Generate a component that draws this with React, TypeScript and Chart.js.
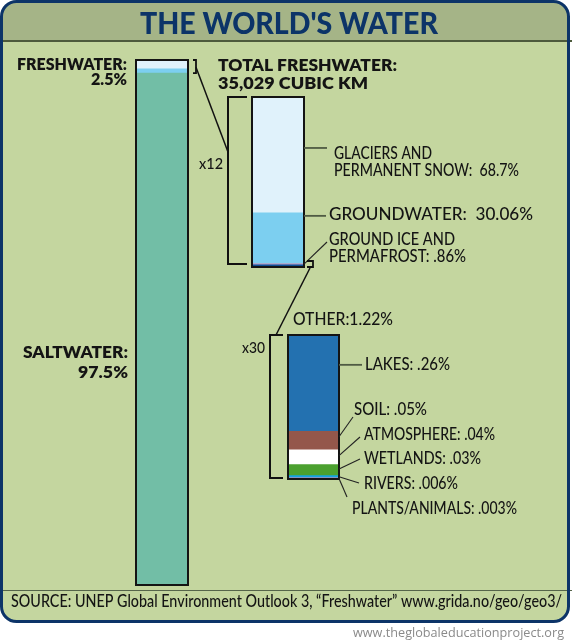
import { useEffect, useRef } from "react";
import { Chart, registerables } from "chart.js";
Chart.register(...registerables);

const W = 572;
const H = 642;

// ---------- data ----------
const WORLD_CATEGORIES = ["SALTWATER", "FRESHWATER"];
const WORLD_VALUES = [97.5, 2.5];
const FRESH_CATEGORIES = ["GLACIERS AND|PERMANENT SNOW", "GROUNDWATER", "GROUND ICE AND|PERMAFROST", "OTHER"];
const FRESH_VALUES = [68.7, 30.06, 0.86, 1.22];
const OTHER_CATEGORIES = ["LAKES", "SOIL", "ATMOSPHERE", "WETLANDS", "RIVERS", "PLANTS/ANIMALS"];
const OTHER_VALUES = [0.26, 0.05, 0.04, 0.03, 0.006, 0.003];
const MAGNIFICATIONS = [12, 30];
const TOTAL_FRESHWATER_KM3 = "35,029";
const TITLE = "THE WORLD'S WATER";
const SOURCE = "SOURCE: UNEP Global Environment Outlook 3, \u201cFreshwater\u201d www.grida.no/geo/geo3/";
const CREDIT = "www.theglobaleducationproject.org";

// ---------- styles ----------
const FONT = "Lato, 'Open Sans', 'DejaVu Sans', sans-serif";
const SALT_COLOR = "#72bea6";
const FRESH_COLORS = ["#e0f2fb", "#7ccff0", "#b49ec8", "#0f4f96"];
const OTHER_COLORS = ["#2371b0", "#94574b", "#ffffff", "#4ba02f", "#15a3e2", "#f08aa2"];
const BG = "#c4d69f";
const HEADER_BG = "#a5b487";
const NAVY = "#0c3468";
const INK = "#141414";
const REG = "500";
const HEAVY = "800";

const sum = (a: number[]) => a.reduce((s, v) => s + v, 0);
const fmt = (v: number) => (v < 1 ? String(v).replace(/^0/, "") : String(v)) + "%";

function txt(
  ctx: CanvasRenderingContext2D,
  s: string,
  x: number,
  cy: number,
  size: number,
  weight: string,
  align: CanvasTextAlign,
  color: string,
  width?: number,
  family: string = FONT
) {
  ctx.save();
  ctx.font = `${weight} ${size}px ${family}`;
  ctx.fillStyle = color;
  ctx.textAlign = align;
  ctx.textBaseline = "alphabetic";
  ctx.translate(x, cy + size * 0.36);
  if (width) {
    const m = ctx.measureText(s).width;
    if (m > 0) ctx.scale(width / m, 1);
  }
  ctx.fillText(s, 0, 0);
  ctx.restore();
}

function line(ctx: CanvasRenderingContext2D, pts: number[][], color: string, lw: number) {
  ctx.save();
  ctx.strokeStyle = color;
  ctx.lineWidth = lw;
  ctx.lineJoin = "miter";
  ctx.beginPath();
  pts.forEach((p, i) => (i ? ctx.lineTo(p[0], p[1]) : ctx.moveTo(p[0], p[1])));
  ctx.stroke();
  ctx.restore();
}

function seg(chart: any, dsIndex: number) {
  const el: any = chart.getDatasetMeta(dsIndex).data[0];
  return { top: Math.min(el.y, el.base), bottom: Math.max(el.y, el.base) };
}

function barOptions(max: number, padding: any, plugins: any[] = []) {
  return {
    type: "bar" as const,
    plugins,
    options: {
      responsive: false,
      animation: false as const,
      events: [] as any[],
      layout: { padding },
      plugins: { legend: { display: false }, title: { display: false }, tooltip: { enabled: false } },
      scales: {
        x: { display: false, stacked: true },
        y: { display: false, stacked: true, min: 0, max },
      },
      datasets: { bar: { barPercentage: 1, categoryPercentage: 1, borderWidth: 0 } },
    },
  };
}

const outline = {
  id: "outline",
  afterDatasetsDraw(chart: any) {
    const { ctx, chartArea: a } = chart;
    ctx.save();
    ctx.strokeStyle = INK;
    ctx.lineWidth = 2;
    ctx.strokeRect(a.left, a.top, a.right - a.left, a.bottom - a.top);
    ctx.restore();
  },
};

const frame = {
  id: "frame",
  beforeDraw(chart: any) {
    const ctx: CanvasRenderingContext2D = chart.ctx;
    const x0 = 1.5, y0 = 1.5, x1 = 568.5, y1 = 621.5, r = 15;
    ctx.save();
    ctx.beginPath();
    ctx.roundRect(x0, y0, x1 - x0, y1 - y0, r);
    ctx.fillStyle = BG;
    ctx.fill();
    ctx.save();
    ctx.clip();
    ctx.fillStyle = HEADER_BG;
    ctx.fillRect(0, 0, W, 41);
    ctx.restore();
    line(ctx, [[0, 41], [W, 41]], "#4d5a3c", 2);
    line(ctx, [[0, 590.5], [W, 590.5]], "#55644a", 1);
    ctx.beginPath();
    ctx.roundRect(x0, y0, x1 - x0, y1 - y0, r);
    ctx.strokeStyle = NAVY;
    ctx.lineWidth = 3;
    ctx.stroke();
    ctx.restore();
    txt(ctx, TITLE, 289, 23, 31, "900", "center", NAVY, 298);
    txt(ctx, SOURCE, 11, 601, 16.5, REG, "left", INK, 551);
    txt(ctx, CREDIT, 564, 632.5, 12.5, "normal", "right", "#8a8a8a", 211, "'Open Sans', 'DejaVu Sans', sans-serif");
  },
  afterDraw(chart: any) {
    const ctx = chart.ctx;
    txt(ctx, WORLD_CATEGORIES[1] + ":", 127, 64, 17, HEAVY, "right", INK, 110);
    txt(ctx, fmt(WORLD_VALUES[1]), 127, 79, 17, HEAVY, "right", INK, 36);
    txt(ctx, WORLD_CATEGORIES[0] + ":", 128, 352, 17.5, HEAVY, "right", INK, 105);
    txt(ctx, fmt(WORLD_VALUES[0]), 128, 372, 17.5, HEAVY, "right", INK, 50);
  },
};

const FRESH_LAYOUT = [
  { t: 0.44, end: [327, NaN], x: 334, ys: [153, 170], sep: ":  ", widths: [98, 185] },
  { t: 0.06, end: [326, NaN], x: 329, ys: [214], sep: ":  ", widths: [204] },
  { t: 0.5, end: [327, 242], x: 329, ys: [239, 256], sep: ": ", widths: [126, 137] },
];
const OTHER_LAYOUT = [
  { t: 0.31, end: [362, NaN], x: 365, y: 364, w: 85 },
  { t: 0.3, end: [353, 417], x: 354, y: 409, w: 73 },
  { t: 0.4, end: [360, 437], x: 364, y: 434, w: 131 },
  { t: 0.4, end: [360, 459], x: 364, y: 458, w: 117 },
  { t: 0.5, end: [359, 483], x: 364, y: 483, w: 94 },
  { t: 0.5, end: [347, 497], x: 352, y: 508, w: 165 },
];

export default function App() {
  const r1 = useRef<HTMLCanvasElement>(null);
  const r2 = useRef<HTMLCanvasElement>(null);
  const r3 = useRef<HTMLCanvasElement>(null);

  useEffect(() => {
    const iceShare = FRESH_VALUES[0] / sum(FRESH_VALUES);
    const fresh = WORLD_VALUES[1];

    const c1 = new Chart(r1.current!, {
      ...barOptions(sum(WORLD_VALUES), { left: 136, right: W - 188, top: 60, bottom: H - 585 }, [frame, outline]),
      data: {
        labels: ["WORLD"],
        datasets: [
          { label: WORLD_CATEGORIES[0], data: [WORLD_VALUES[0]], backgroundColor: SALT_COLOR },
          { label: WORLD_CATEGORIES[1] + " (liquid)", data: [fresh * (1 - iceShare)], backgroundColor: FRESH_COLORS[1] },
          { label: WORLD_CATEGORIES[1] + " (ice)", data: [fresh * iceShare], backgroundColor: FRESH_COLORS[0] },
        ],
      },
    } as any);

    const nF = FRESH_VALUES.length;
    const c2 = new Chart(r2.current!, {
      ...barOptions(sum(FRESH_VALUES), { left: 252, right: W - 304, top: 97, bottom: H - 267 }, [outline]),
      data: {
        labels: ["FRESHWATER"],
        datasets: FRESH_VALUES.map((_, k) => ({
          label: FRESH_CATEGORIES[nF - 1 - k],
          data: [FRESH_VALUES[nF - 1 - k]],
          backgroundColor: FRESH_COLORS[nF - 1 - k],
        })),
      },
    } as any);

    const nO = OTHER_VALUES.length;
    const annotations = {
      id: "annotations",
      afterDraw(chart: any) {
        const ctx: CanvasRenderingContext2D = chart.ctx;
        const a1 = c1.chartArea, a2 = c2.chartArea, a3 = chart.chartArea;
        const blk = "#111";

        txt(ctx, "TOTAL " + WORLD_CATEGORIES[1] + ":", 218, 65, 17.5, HEAVY, "left", INK, 179);
        txt(ctx, TOTAL_FRESHWATER_KM3 + " CUBIC KM", 218, 83, 17.5, HEAVY, "left", INK, 150);

        const fA = { top: seg(c1, 2).top, bottom: seg(c1, 1).bottom };
        const xA = a1.right + 8;
        line(ctx, [[xA - 3, fA.top], [xA, fA.top], [xA, fA.bottom], [xA - 3, fA.bottom]], blk, 1.8);

        const xB = a2.left - 24;
        const bBot = a2.bottom - 3;
        line(ctx, [[a2.left - 5, a2.top], [xB, a2.top], [xB, bBot], [a2.left - 5, bBot]], blk, 2);
        line(ctx, [[xA, fA.top + (fA.bottom - fA.top) * 0.55], [xB, a2.top + (bBot - a2.top) * 0.33]], blk, 1.5);
        txt(ctx, "x" + MAGNIFICATIONS[0], xB - 5, a2.top + 66, 16, REG, "right", INK, 24);

        FRESH_LAYOUT.forEach((L, k) => {
          const s = seg(c2, nF - 1 - k);
          const sy = s.top + (s.bottom - s.top) * L.t;
          const horiz = isNaN(L.end[1]);
          const ey = horiz ? sy : L.end[1];
          line(ctx, [[a2.right, sy], [L.end[0], ey]], horiz ? "#4f5b43" : "#222", horiz ? 1.8 : 1.1);
          const parts = FRESH_CATEGORIES[k].split("|");
          parts[parts.length - 1] += L.sep + fmt(FRESH_VALUES[k]);
          parts.forEach((p, i) => txt(ctx, p, L.x, L.ys[i], 16.5, REG, "left", INK, L.widths[i]));
        });

        const oSeg = seg(c2, 0);
        const cTop = Math.min(oSeg.top, a2.bottom - 6);
        const xC = a2.right + 9;
        line(ctx, [[a2.right + 3, cTop], [xC, cTop], [xC, a2.bottom], [a2.right + 3, a2.bottom]], blk, 1.8);
        const xD = a3.left - 18;
        line(ctx, [[xC - 3, a2.bottom + 1], [xD + 6, a3.top]], blk, 1.5);
        line(ctx, [[a3.left - 5, a3.top], [xD, a3.top], [xD, a3.bottom - 1], [a3.left - 5, a3.bottom - 1]], blk, 2);
        txt(ctx, "x" + MAGNIFICATIONS[1], xD - 5, a3.top + 12, 16, REG, "right", INK, 23);

        txt(ctx, FRESH_CATEGORIES[3] + ":" + fmt(FRESH_VALUES[3]), a3.left + 5, a3.top - 16, 16.5, REG, "left", INK, 100);
        OTHER_LAYOUT.forEach((L, k) => {
          const s = seg(chart, nO - 1 - k);
          const sy = s.top + (s.bottom - s.top) * L.t;
          const horiz = isNaN(L.end[1]);
          const ey = horiz ? sy : L.end[1];
          line(ctx, [[a3.right, sy], [L.end[0], ey]], horiz ? "#4f5b43" : "#222", horiz ? 1.8 : 1.1);
          txt(ctx, OTHER_CATEGORIES[k] + ": " + fmt(OTHER_VALUES[k]), L.x, L.y, 16.5, REG, "left", INK, L.w);
        });
      },
    };

    const c3 = new Chart(r3.current!, {
      ...barOptions(sum(OTHER_VALUES), { left: 288, right: W - 339, top: 335, bottom: H - 479 }, [outline, annotations]),
      data: {
        labels: ["OTHER"],
        datasets: OTHER_VALUES.map((_, k) => ({
          label: OTHER_CATEGORIES[nO - 1 - k],
          data: [OTHER_VALUES[nO - 1 - k]],
          backgroundColor: OTHER_COLORS[nO - 1 - k],
        })),
      },
    } as any);

    return () => {
      c3.destroy();
      c2.destroy();
      c1.destroy();
    };
  }, []);

  const cs: React.CSSProperties = { position: "absolute", left: 0, top: 0 };
  return (
    <div style={{ position: "absolute", left: 0, top: 0, width: W, height: H }}>
      <canvas ref={r1} width={W} height={H} style={cs} />
      <canvas ref={r2} width={W} height={H} style={cs} />
      <canvas ref={r3} width={W} height={H} style={cs} />
    </div>
  );
}
